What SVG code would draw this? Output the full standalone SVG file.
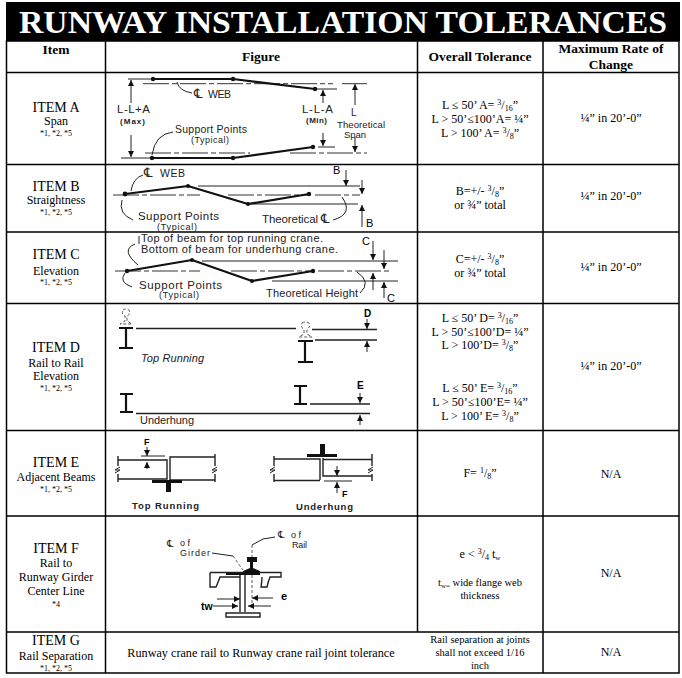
<svg xmlns="http://www.w3.org/2000/svg" width="682" height="678" viewBox="0 0 682 678">
<style>
text{font-family:"Liberation Serif","Times New Roman",serif;fill:#000;text-anchor:middle}
.title{font-size:32px;font-weight:bold;fill:#fff}
.hd{font-size:13.5px;font-weight:bold}
.item{font-size:14px}
.sub{font-size:12px}
.note{font-size:8px}
.tol{font-size:12px}
.sm{font-size:10.5px}
.fig{font-family:"Liberation Sans",Arial,sans-serif;font-size:10.5px;fill:#222;text-anchor:start}
.cl{font-family:"DejaVu Sans",sans-serif;font-size:13px;fill:#222;text-anchor:start}
.dim{font-family:"Liberation Sans",Arial,sans-serif;font-size:11px;fill:#000;text-anchor:start}
.grid{stroke:#000;stroke-width:1.5;fill:none}
.beam{stroke:#111;stroke-width:2.2;fill:none;stroke-linejoin:round}
.thin{stroke:#222;stroke-width:1;fill:none}
.mid{stroke:#222;stroke-width:1.4;fill:none}
.dash{stroke:#333;stroke-width:1;fill:none;stroke-dasharray:26 3 5 3}
.dot{stroke:#333;stroke-width:.8;fill:none;stroke-dasharray:3 2}
.ar{stroke:#222;stroke-width:1;fill:none;marker-end:url(#a)}
.blk{fill:#111;stroke:none}
</style>
<defs>
<marker id="a" markerUnits="userSpaceOnUse" markerWidth="8" markerHeight="8" refX="6" refY="3" orient="auto"><path d="M0 0L6 3L0 6Z" fill="#111"/></marker>
</defs>
<rect width="682" height="678" fill="#fff"/>

<g id="title"><rect x="6" y="2" width="674" height="39" fill="#000"/>
<text class="title" x="343" y="33" textLength="648" lengthAdjust="spacingAndGlyphs">RUNWAY INSTALLATION TOLERANCES</text></g>

<g id="grid" class="grid">
<rect x="6.5" y="41" width="672.5" height="632"/>
<path d="M105.5 41V673M417.5 41V632M543 41V673M6.5 72.5H679M6.5 164.5H679M6.5 232H679M6.5 303.5H679M6.5 430.5H679M6.5 516H679M6.5 632H679"/>
</g>

<g id="header">
<text class="hd" x="56" y="54">Item</text>
<text class="hd" x="261" y="61">Figure</text>
<text class="hd" x="480" y="61">Overall Tolerance</text>
<text class="hd" x="611" y="53">Maximum Rate of</text>
<text class="hd" x="611" y="69">Change</text>
</g>

<g id="item-a">
<text class="item" x="56" y="112">ITEM A</text><text class="sub" x="56" y="125">Span</text><text class="note" x="56" y="136">*1, *2, *5</text>
<text class="tol" x="480" y="109">L ≤ 50’ A= <tspan dy="-4" font-size="8">3</tspan><tspan dy="4">/</tspan><tspan dy="2" font-size="8">16</tspan><tspan dy="-2">”</tspan></text>
<text class="tol" x="480" y="123">L &gt; 50’≤100’A= ¼”</text>
<text class="tol" x="480" y="137">L &gt; 100’ A= <tspan dy="-4" font-size="8">3</tspan><tspan dy="4">/</tspan><tspan dy="2" font-size="8">8</tspan><tspan dy="-2">”</tspan></text>
<text class="tol" x="611" y="122">¼” in 20’-0”</text>
<path class="thin" d="M128 79H153M317 89H337M318 147H335M121 158H152"/>
<path class="dash" d="M143 83.7H333M342 83.7H367M145 153H250M290 153H367"/>
<path class="beam" d="M153 79H233L315 89M152 158H233L313 147"/>
<circle class="blk" cx="153" cy="79" r="2.2"/><circle class="blk" cx="233" cy="79" r="2.2"/><circle class="blk" cx="315" cy="89" r="2.2"/><circle class="blk" cx="152" cy="158" r="2.2"/><circle class="blk" cx="233" cy="158" r="2.2"/><circle class="blk" cx="313" cy="147" r="2.2"/>
<path class="thin" d="M177 82Q179 91 192 93M173 132Q155 134 152 155"/>
<path class="ar" d="M131 103V80"/><path class="ar" d="M131 135V157"/><path class="ar" d="M323 103V90"/><path class="ar" d="M323 133V146"/><path class="ar" d="M355 105V84"/><path class="ar" d="M355 137V152"/>
<text class="cl" x="194" y="98">℄</text><text class="fig" x="208" y="98" textLength="23">WEB</text>
<text class="fig" x="117" y="113" style="font-size:11.500px" textLength="33">L-L+A</text><text class="fig" x="120" y="124" textLength="25" style="font-size:8px;font-weight:bold">(Max)</text>
<text class="fig" x="302" y="113" textLength="31" style="font-size:11.500px">L-L-A</text><text class="fig" x="306" y="123" textLength="21" style="font-size:8px;font-weight:bold">(Min)</text>
<text class="fig" x="175" y="133" textLength="72">Support Points</text><text class="fig" x="191" y="143" textLength="38" style="font-size:9px">(Typical)</text>
<text class="fig" x="351" y="116" style="font-size:10px">L</text><text class="fig" x="337" y="128" textLength="48" style="font-size:9.500px">Theoretical</text><text class="fig" x="344" y="138" textLength="22" style="font-size:9.500px">Span</text>
</g>

<g id="item-b">
<text class="item" x="56" y="191">ITEM B</text><text class="sub" x="56" y="204">Straightness</text><text class="note" x="56" y="215">*1, *2, *5</text>
<text class="tol" x="480" y="195">B=+/- <tspan dy="-4" font-size="8">3</tspan><tspan dy="4">/</tspan><tspan dy="2" font-size="8">8</tspan><tspan dy="-2">”</tspan></text>
<text class="tol" x="480" y="209">or ¾” total</text>
<text class="tol" x="611" y="200">¼” in 20’-0”</text>
<path class="thin" d="M198 186H360M248 204H358"/>
<path class="dash" d="M113 195H200M228 195H309M315 195H360"/>
<path class="beam" d="M125 194L188 186L248 204L309 194"/>
<circle class="blk" cx="125" cy="194" r="2.4"/><circle class="blk" cx="188" cy="186" r="2"/><circle class="blk" cx="248" cy="204" r="2"/><circle class="blk" cx="309" cy="194" r="2.2"/>
<path class="thin" d="M143 175Q133 178 131 191M122 200Q118 214 133 220M333 220Q354 214 342 197"/>
<path class="ar" d="M346 170V186"/><path class="ar" d="M362 180V194"/><path class="ar" d="M362 227V205"/>
<text class="dim" x="333" y="174">B</text><text class="dim" x="366" y="227">B</text>
<text class="cl" x="144" y="177">℄</text><text class="fig" x="160" y="177" textLength="25">WEB</text>
<text class="fig" x="138" y="220" textLength="81" style="font-size:11.500px">Support Points</text><text class="fig" x="157" y="229.500" textLength="40" style="font-size:9px">(Typical)</text>
<text class="fig" x="262" y="223" textLength="56" style="font-size:11.500px">Theoretical</text><text class="cl" x="321" y="223">℄</text>
</g>

<g id="item-c">
<text class="item" x="56" y="259">ITEM C</text><text class="sub" x="56" y="275">Elevation</text><text class="note" x="56" y="285">*1, *2, *5</text>
<text class="tol" x="480" y="263">C=+/- <tspan dy="-4" font-size="8">3</tspan><tspan dy="4">/</tspan><tspan dy="2" font-size="8">8</tspan><tspan dy="-2">”</tspan></text>
<text class="tol" x="480" y="277">or ¾” total</text>
<text class="tol" x="611" y="271">¼” in 20’-0”</text>
<path class="thin" d="M202 261H398M272 281H398"/>
<path class="dash" d="M115 271H200M231 271H313M318 271H392"/>
<path class="beam" d="M127 271L192 260L252 281L313 271"/>
<circle class="blk" cx="127" cy="271" r="2.2"/><circle class="blk" cx="192" cy="260" r="2"/><circle class="blk" cx="252" cy="281" r="2"/><circle class="blk" cx="313" cy="271" r="2.2"/>
<path class="thin" d="M139 236V244M135 244Q120 250 138 265M132 287Q118 282 125 273M360 293Q372 282 357 272"/>
<path class="ar" d="M373 241V260"/><path class="ar" d="M384 250V269"/><path class="ar" d="M373 290V273"/><path class="ar" d="M384 298V282"/>
<text class="dim" x="362" y="245">C</text><text class="dim" x="387" y="302">C</text>
<text class="fig" x="141" y="242" textLength="182" style="font-size:11px">Top of beam for top running crane.</text>
<text class="fig" x="141" y="253" textLength="197" style="font-size:11px">Bottom of beam for underhung crane.</text>
<text class="fig" x="139" y="289" textLength="83" style="font-size:11.500px">Support Points</text><text class="fig" x="159" y="298" textLength="40" style="font-size:9px">(Typical)</text>
<text class="fig" x="266" y="297" textLength="92" style="font-size:11px">Theoretical Height</text>
</g>

<g id="item-d">
<text class="item" x="56" y="352">ITEM D</text><text class="sub" x="56" y="367">Rail to Rail</text><text class="sub" x="56" y="380">Elevation</text><text class="note" x="56" y="391">*1, *2, *5</text>
<text class="tol" x="480" y="322">L ≤ 50’ D= <tspan dy="-4" font-size="8">3</tspan><tspan dy="4">/</tspan><tspan dy="2" font-size="8">16</tspan><tspan dy="-2">”</tspan></text>
<text class="tol" x="480" y="336">L &gt; 50’≤100’D= ¼”</text>
<text class="tol" x="480" y="349">L &gt; 100’D= <tspan dy="-4" font-size="8">3</tspan><tspan dy="4">/</tspan><tspan dy="2" font-size="8">8</tspan><tspan dy="-2">”</tspan></text>
<text class="tol" x="480" y="392">L ≤ 50’ E= <tspan dy="-4" font-size="8">3</tspan><tspan dy="4">/</tspan><tspan dy="2" font-size="8">16</tspan><tspan dy="-2">”</tspan></text>
<text class="tol" x="480" y="406">L &gt; 50’≤100’E= ¼”</text>
<text class="tol" x="480" y="420">L &gt; 100’ E= <tspan dy="-4" font-size="8">3</tspan><tspan dy="4">/</tspan><tspan dy="2" font-size="8">8</tspan><tspan dy="-2">”</tspan></text>
<text class="tol" x="611" y="370">¼” in 20’-0”</text>
<path class="dot" d="M123 310Q126 308 129 310Q131 314 127 316L127 321L132 324L120 324L125 321L125 316Q121 314 123 310Z"/>
<path class="dot" d="M302 323Q305 321 309 323Q311 327 307 329L307 334L312 337L299 337L304 334L304 329Q300 327 302 323Z"/>
<path class="beam" d="M119 328H133M126 328V348M119 348H133M298 341H313M305 341V362M298 362H313M120 394H133M126 394V412M120 412H133M294 386H307M300 386V404M294 404H307"/>
<path class="mid" d="M136 328.500H296M312 329.500H377M315 340H377M310 404H370M136 413.500H370"/>
<path class="ar" d="M367 319V329"/><path class="ar" d="M367 352V341"/><path class="ar" d="M360 393V403"/><path class="ar" d="M360 425V415"/>
<text class="dim" x="364" y="317" style="font-weight:bold;font-size:10px">D</text><text class="dim" x="357" y="389" style="font-weight:bold;font-size:10px">E</text>
<text class="fig" x="141" y="362" textLength="63" style="font-style:italic;font-size:11px">Top Running</text>
<text class="fig" x="140" y="424" textLength="54" style="font-size:11px">Underhung</text>
</g>

<g id="item-e">
<text class="item" x="56" y="467">ITEM E</text><text class="sub" x="56" y="481">Adjacent Beams</text><text class="note" x="56" y="492">*1, *2, *5</text>
<text class="tol" x="480" y="477">F= <tspan dy="-4" font-size="8">1</tspan><tspan dy="4">/</tspan><tspan dy="2" font-size="8">8</tspan><tspan dy="-2">”</tspan></text>
<text class="tol" x="611" y="478">N/A</text>
<path class="mid" d="M118 456V466M118 474V482M118 460H167V479H118M170 481V457H215M170 480H215M215 454V466M215 474V482"/>
<path class="thin" d="M141 456H165"/>
<path class="blk" d="M152 480H182V483H171V492H166V483H152Z"/>
<path class="ar" d="M147 447V456"/><path class="ar" d="M147 469V462"/>
<path class="thin" d="M120 467L115 470H120L115 473M217 467L212 470H217L212 473M275 467L270 470H275L270 473M373 467L368 470H373L368 473"/>
<text class="dim" x="144" y="445" style="font-size:9px;font-weight:bold">F</text>
<text class="fig" x="132" y="509" textLength="67" style="font-size:9.500px;font-weight:bold">Top Running</text>
<path class="blk" d="M320 444H325V454H337V457H307V454H320Z"/>
<path class="mid" d="M274 456V466M274 474V482M274 459H320V480M274 480.500H320M323 458V476H372M323 459.500H372M372 454V466M372 474V481"/>
<path class="thin" d="M324 481H352"/>
<path class="ar" d="M337 466V476"/><path class="ar" d="M337 493V482"/>
<text class="dim" x="342" y="497" style="font-size:9px;font-weight:bold">F</text>
<text class="fig" x="296" y="510" textLength="57" style="font-size:9.500px;font-weight:bold">Underhung</text>
</g>

<g id="item-f">
<text class="item" x="56" y="553">ITEM F</text><text class="sub" x="56" y="567">Rail to</text><text class="sub" x="56" y="581">Runway Girder</text><text class="sub" x="56" y="595">Center Line</text><text class="note" x="56" y="607">*4</text>
<text class="tol" x="480" y="558">e &lt; <tspan dy="-4" font-size="8">3</tspan><tspan dy="4">/</tspan><tspan dy="2" font-size="8">4</tspan><tspan dy="-2"> t</tspan><tspan dy="2" font-size="7">w</tspan></text>
<text class="sm" x="480" y="586">t<tspan dy="2" font-size="7">w=</tspan><tspan dy="-2"> wide flange web</tspan></text>
<text class="sm" x="480" y="599">thickness</text>
<text class="tol" x="611" y="577">N/A</text>
<path class="thin" d="M252 545L263 539L275 537M212 553L233 556"/>
<path class="dot" d="M233 556L243 570M252 545V607"/>
<path class="mid" d="M210 572.500H281V577L270 577Q268 582 267 587H261Q262 580 262 577M210 572.500V587H216Q219 580 220 577H240"/>
<path class="blk" d="M247 557H257V562H253V568L260 571V574H243V571L250 568V562H247Z"/>
<path class="blk" d="M226 573H260V575H226Z"/>
<path class="mid" d="M240 575V612M245 575V612M226 613H260V617H226Z"/>
<path class="ar" d="M217 599H240"/><path class="ar" d="M273 598H252"/><path class="ar" d="M213 606H238"/><path class="ar" d="M271 606H248"/>
<text class="cl" x="167" y="547" style="font-size:10px">℄</text><text class="fig" x="180" y="546" style="font-size:9px" textLength="10">of</text><text class="fig" x="180" y="556" style="font-size:9px" textLength="30">Girder</text>
<text class="cl" x="278" y="538" style="font-size:10px">℄</text><text class="fig" x="291" y="538" style="font-size:9px" textLength="10">of</text><text class="fig" x="292" y="548" style="font-size:9px" textLength="15">Rail</text>
<text class="dim" x="281" y="600" style="font-weight:bold">e</text><text class="dim" x="201" y="610" style="font-weight:bold;font-size:10.500px">tw</text>
</g>

<g id="item-g">
<text class="item" x="56" y="645">ITEM G</text><text class="sub" x="56" y="660">Rail Separation</text><text class="note" x="56" y="671">*1, *2, *5</text>
<text class="sub" x="261" y="657" style="font-size:12.200px">Runway crane rail to Runway crane rail joint tolerance</text>
<text class="sm" x="480" y="643">Rail separation at joints</text><text class="sm" x="480" y="656">shall not exceed 1/16</text><text class="sm" x="480" y="669">inch</text>
<text class="tol" x="611" y="656">N/A</text>
</g>
</svg>
